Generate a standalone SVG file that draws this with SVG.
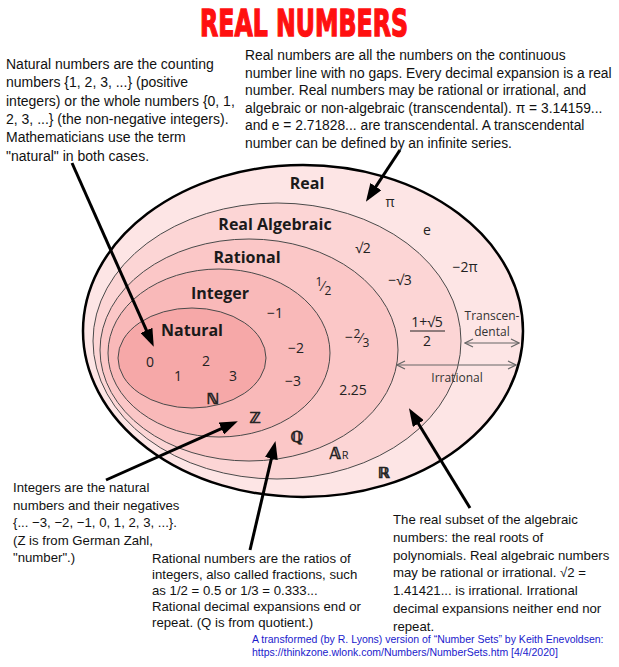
<svg xmlns="http://www.w3.org/2000/svg" width="619" height="667" viewBox="0 0 619 667">
<style>
.desc{font-family:"Liberation Sans",Arial,sans-serif;fill:#111;}
.lbl{font-family:"Open Sans","Noto Sans",sans-serif;font-weight:bold;font-size:16px;fill:#1a1a1a;text-anchor:middle;}
.num{font-family:"Open Sans","Noto Sans","DejaVu Sans",sans-serif;font-size:14px;fill:#222;text-anchor:middle;}
.fr{font-family:"Open Sans","Noto Sans","DejaVu Sans",sans-serif;font-size:12px;fill:#222;text-anchor:middle;}
.ds{font-family:"DejaVu Serif","DejaVu Sans",serif;font-weight:bold;font-size:15px;fill:#222;stroke:#222;stroke-width:0.6;text-anchor:middle;}
.small{font-family:"Open Sans","Noto Sans",sans-serif;font-size:12px;fill:#333;text-anchor:middle;}
.inner{stroke:#4a4a4a;stroke-width:1;}
.arrow{stroke:#000;stroke-width:3;fill:none;marker-end:url(#ah);}
.garrow{stroke:#666;stroke-width:1.2;fill:none;marker-start:url(#ga);marker-end:url(#ga);}
</style>
<defs>
<marker id="ah" viewBox="0 0 18 13" refX="8" refY="6.5" markerWidth="18" markerHeight="13" markerUnits="userSpaceOnUse" orient="auto"><path d="M0,0 L18,6.5 L0,13 z" fill="#000"/></marker>
<marker id="ga" viewBox="0 0 10 10" refX="9" refY="5" markerWidth="10" markerHeight="10" markerUnits="userSpaceOnUse" orient="auto-start-reverse"><path d="M1,1 L9,5 L1,9" fill="none" stroke="#666" stroke-width="1.2"/></marker>
</defs>
<rect width="619" height="667" fill="#fff"/>
<text x="304" y="36" text-anchor="middle" font-family="DejaVu Sans,sans-serif" font-weight="bold" font-size="38" fill="#ff1010" stroke="#ff1010" stroke-width="1.5" textLength="208" lengthAdjust="spacingAndGlyphs">REAL NUMBERS</text>

<g id="real">
<ellipse cx="303" cy="331" rx="220" ry="166" fill="#fde5e5" stroke="#000" stroke-width="2.5"/>
<text class="lbl" x="307" y="189">Real</text>
</g>
<g id="real-algebraic">
<ellipse cx="277" cy="341" rx="184" ry="138" fill="#fcd5d5" class="inner"/>
<text class="lbl" x="275" y="230">Real Algebraic</text>
</g>
<g id="rational">
<ellipse cx="249" cy="350" rx="149" ry="111" fill="#fbc7c7" class="inner"/>
<text class="lbl" x="247" y="263">Rational</text>
</g>
<g id="integer">
<ellipse cx="219" cy="353" rx="111" ry="84" fill="#f9b9b9" class="inner"/>
<text class="lbl" x="220" y="299">Integer</text>
</g>
<g id="natural">
<ellipse cx="192" cy="358" rx="74" ry="50" fill="#f6a8a8" class="inner"/>
<text class="lbl" x="192" y="336">Natural</text>
</g>

<g id="members">
<text class="num" x="390" y="207">π</text>
<text class="num" x="427" y="235">e</text>
<text class="num" x="363" y="253">√2</text>
<text class="num" x="465" y="272">−2π</text>
<text class="fr" x="319" y="286">1</text>
<text class="num" x="323" y="291">⁄</text>
<text class="fr" x="328" y="295">2</text>
<text class="num" x="400" y="285">−√3</text>
<text class="num" x="275" y="318">−1</text>
<text class="num" x="349" y="342">−</text>
<text class="fr" x="357" y="338">2</text>
<text class="num" x="361" y="343">⁄</text>
<text class="fr" x="366" y="347">3</text>
<text class="num" x="296" y="353">−2</text>
<text class="num" x="293" y="386">−3</text>
<text class="num" x="353" y="395">2.25</text>
<text class="num" x="150" y="367">0</text>
<text class="num" x="206" y="366">2</text>
<text class="num" x="178" y="381">1</text>
<text class="num" x="233" y="381">3</text>
<text class="num" x="427" y="327" font-size="15">1+√5</text>
<line x1="410" y1="331" x2="445" y2="331" stroke="#222" stroke-width="1"/>
<text class="num" x="427" y="346" font-size="15">2</text>
<text class="ds" x="213" y="404">ℕ</text>
<text class="ds" x="255" y="423">ℤ</text>
<text class="ds" x="297" y="442">ℚ</text>
<text class="ds" x="339" y="459">𝔸<tspan font-size="11" font-weight="normal" stroke="none" font-family="Open Sans,sans-serif" dx="1">R</tspan></text>
<text class="ds" x="384" y="478">ℝ</text>
<text class="small" x="492" y="320">Transcen-</text>
<text class="small" x="492" y="336">dental</text>
<text class="small" x="457" y="382">Irrational</text>
</g>

<g id="connectors">
<line class="garrow" x1="465" y1="343" x2="519" y2="343"/>
<line class="garrow" x1="397" y1="365" x2="516" y2="365"/>
<line class="arrow" x1="72" y1="163" x2="149.7" y2="337.7"/>
<line class="arrow" x1="400" y1="150" x2="371.4" y2="193.3"/>
<line class="arrow" x1="106" y1="480" x2="228.7" y2="425.3"/>
<line class="arrow" x1="250" y1="550" x2="273.2" y2="450.8"/>
<line class="arrow" x1="470" y1="508" x2="414.2" y2="416.8"/>
</g>

<g id="note-natural" class="desc" font-size="14">
<text x="6" y="69">Natural numbers are the counting</text>
<text x="6" y="87.3">numbers {1, 2, 3, ...} (positive</text>
<text x="6" y="105.6">integers) or the whole numbers {0, 1,</text>
<text x="6" y="123.9">2, 3, ...} (the non-negative integers).</text>
<text x="6" y="142.2">Mathematicians use the term</text>
<text x="6" y="160.5">"natural" in both cases.</text>
</g>
<g id="note-real" class="desc" font-size="13.8">
<text x="245" y="60">Real numbers are all the numbers on the continuous</text>
<text x="245" y="77.5">number line with no gaps. Every decimal expansion is a real</text>
<text x="245" y="95">number. Real numbers may be rational or irrational, and</text>
<text x="245" y="112.5">algebraic or non-algebraic (transcendental). π = 3.14159...</text>
<text x="245" y="130">and e = 2.71828... are transcendental. A transcendental</text>
<text x="245" y="147.5">number can be defined by an infinite series.</text>
</g>
<g id="note-integer" class="desc" font-size="13.2">
<text x="13" y="492">Integers are the natural</text>
<text x="13" y="509.5">numbers and their negatives</text>
<text x="13" y="527">{... −3, −2, −1, 0, 1, 2, 3, ...}.</text>
<text x="13" y="544.5">(Z is from German Zahl,</text>
<text x="13" y="562">"number".)</text>
</g>
<g id="note-rational" class="desc" font-size="13.2">
<text x="152" y="563">Rational numbers are the ratios of</text>
<text x="152" y="579">integers, also called fractions, such</text>
<text x="152" y="595">as 1/2 = 0.5 or 1/3 = 0.333...</text>
<text x="152" y="611">Rational decimal expansions end or</text>
<text x="152" y="627">repeat. (Q is from quotient.)</text>
</g>
<g id="note-algebraic" class="desc" font-size="13.2">
<text x="393" y="524">The real subset of the algebraic</text>
<text x="393" y="541.8">numbers: the real roots of</text>
<text x="393" y="559.6">polynomials. Real algebraic numbers</text>
<text x="393" y="577.4">may be rational or irrational. √2 =</text>
<text x="393" y="595.2">1.41421... is irrational. Irrational</text>
<text x="393" y="613">decimal expansions neither end nor</text>
<text x="393" y="630.8">repeat.</text>
</g>
<g id="credit" font-family="Liberation Sans,Arial,sans-serif" font-size="10.5" fill="#1a1acc">
<text x="252" y="643">A transformed (by R. Lyons) version of “Number Sets” by Keith Enevoldsen:</text>
<text x="252" y="656">https://thinkzone.wlonk.com/Numbers/NumberSets.htm [4/4/2020]</text>
</g>
</svg>
